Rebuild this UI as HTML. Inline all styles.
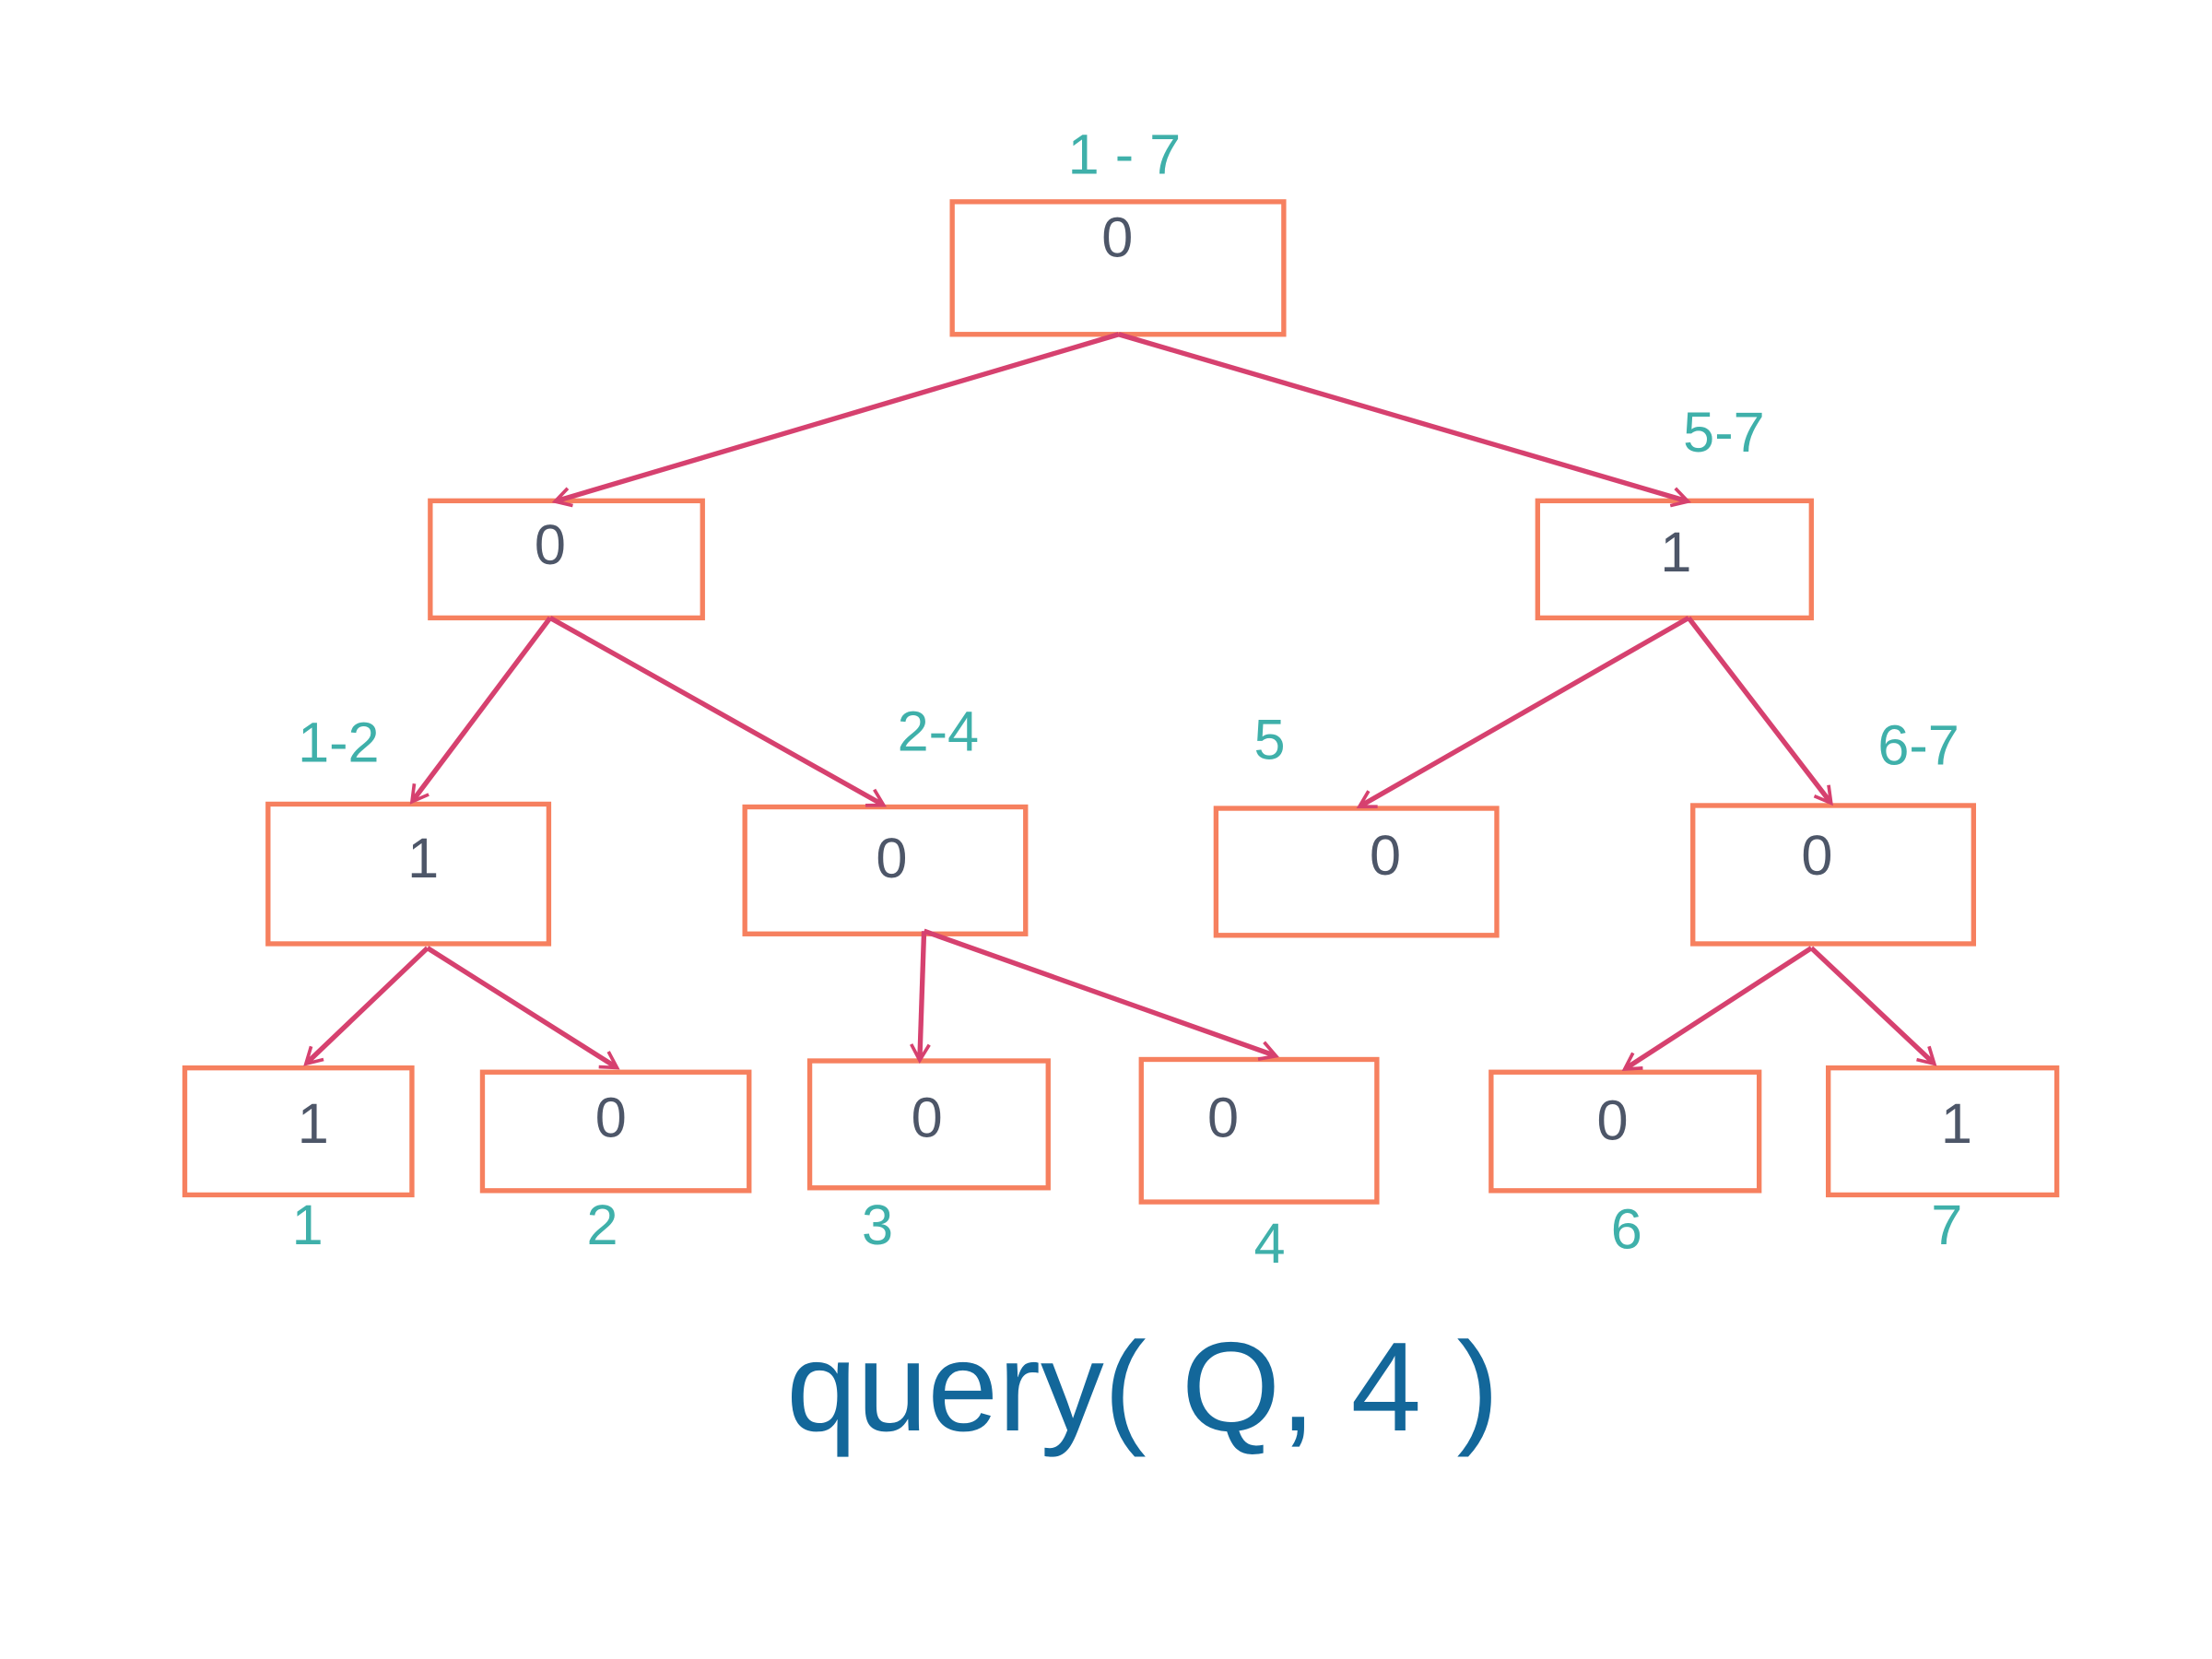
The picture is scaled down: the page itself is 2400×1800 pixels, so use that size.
<!DOCTYPE html>
<html><head><meta charset="utf-8"><style>
html,body{margin:0;padding:0;background:#fff;}
svg{display:block;}
</style></head><body>
<svg width="2400" height="1800" viewBox="0 0 1568 1176" preserveAspectRatio="none" xmlns="http://www.w3.org/2000/svg">
<defs>
<marker id="a" viewBox="0 0 20 20" refX="14" refY="10" markerWidth="16" markerHeight="16" markerUnits="userSpaceOnUse" orient="auto">
<path d="M2,2 L16,10 L2,18" fill="none" stroke="#d6416f" stroke-width="3"/>
</marker>
</defs>
<g fill="none" stroke="#f6805f" stroke-width="3.5">
<rect x="675" y="143" width="235" height="94"/>
<rect x="305" y="355" width="193" height="83"/>
<rect x="1090" y="355" width="194" height="83"/>
<rect x="190" y="570" width="199" height="99"/>
<rect x="528" y="572" width="199" height="90"/>
<rect x="862" y="573" width="199" height="90"/>
<rect x="1200" y="571" width="199" height="98"/>
<rect x="131" y="757" width="161" height="90"/>
<rect x="342" y="760" width="189" height="84"/>
<rect x="574" y="752" width="169" height="90"/>
<rect x="809" y="751" width="167" height="101"/>
<rect x="1057" y="760" width="190" height="84"/>
<rect x="1296" y="757" width="162" height="90"/>
</g>
<g stroke="#d6416f" stroke-width="3.5" marker-end="url(#a)">
<line x1="793" y1="237" x2="395" y2="355"/>
<line x1="793" y1="237" x2="1195" y2="355"/>
<line x1="390" y1="438" x2="293" y2="567"/>
<line x1="390" y1="438" x2="625" y2="570"/>
<line x1="1197" y1="438" x2="965" y2="571"/>
<line x1="1197" y1="438" x2="1297" y2="568"/>
<line x1="303" y1="672" x2="218" y2="753"/>
<line x1="303" y1="672" x2="436" y2="756"/>
<line x1="655" y1="660" x2="652" y2="750"/>
<line x1="655" y1="660" x2="903" y2="748"/>
<line x1="1284" y1="672" x2="1153" y2="757"/>
<line x1="1284" y1="672" x2="1370" y2="753"/>
</g>
<g fill="#4d5668" font-family="Liberation Sans, sans-serif" font-size="40" text-anchor="middle">
<text x="792" y="182">0</text>
<text x="390" y="400">0</text>
<text x="1188" y="405">1</text>
<text x="300" y="622">1</text>
<text x="632" y="622">0</text>
<text x="982" y="620">0</text>
<text x="1288" y="620">0</text>
<text x="222" y="810">1</text>
<text x="433" y="806">0</text>
<text x="657" y="806">0</text>
<text x="867" y="806">0</text>
<text x="1143" y="808">0</text>
<text x="1387" y="810">1</text>
</g>
<g fill="#3fb0aa" font-family="Liberation Sans, sans-serif" font-size="40" text-anchor="middle">
<text x="797" y="123">1 - 7</text>
<text x="1222" y="320">5-7</text>
<text x="240" y="540">1-2</text>
<text x="665" y="532">2-4</text>
<text x="900" y="538">5</text>
<text x="1360" y="542">6-7</text>
<text x="218" y="882">1</text>
<text x="427" y="882">2</text>
<text x="622" y="882">3</text>
<text x="900" y="895">4</text>
<text x="1153" y="885">6</text>
<text x="1380" y="882">7</text>
</g>
<text x="810" y="1014" text-anchor="middle" fill="#13679a" font-family="Liberation Sans, sans-serif" font-size="90">query( Q, 4 )</text>
</svg>
</body></html>
